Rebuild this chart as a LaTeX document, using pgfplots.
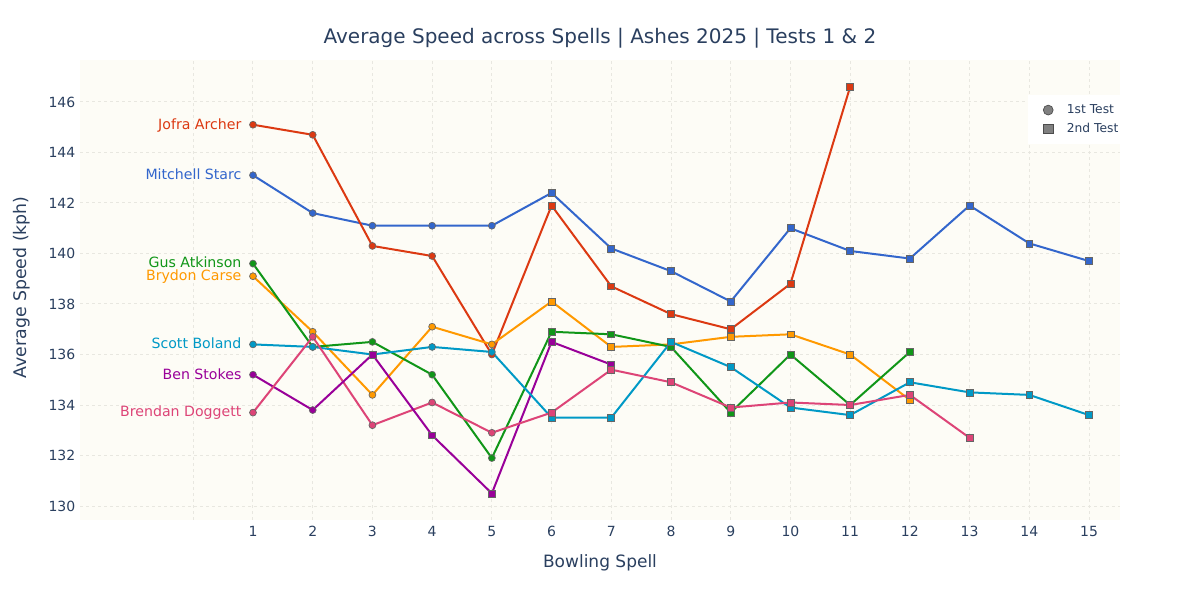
\documentclass[border=0pt]{standalone}
\usepackage{fontspec}
\setmainfont{DejaVu Sans}
\usepackage{pgfplots}
\pgfplotsset{compat=1.18}
\definecolor{cstarc}{HTML}{3366CC}
\definecolor{carcher}{HTML}{DC3912}
\definecolor{ccarse}{HTML}{FF9900}
\definecolor{catk}{HTML}{109618}
\definecolor{cstokes}{HTML}{990099}
\definecolor{cboland}{HTML}{0099C6}
\definecolor{cdog}{HTML}{DD4477}
\definecolor{txt}{HTML}{2A3F5F}
\definecolor{bg}{RGB}{253,252,246}
\definecolor{gridc}{RGB}{232,231,224}
\pgfplotsset{
 t1/.style={color=#1, line width=1.5pt, mark=*, mark size=2.6pt, mark options={fill=#1, draw=black!60, line width=0.5pt, solid}, forget plot},
 t2/.style={color=#1, line width=1.5pt, no marks, forget plot},
 t2m/.style={only marks, mark=square*, mark size=2.6pt, mark options={fill=#1, draw=black!60, line width=0.5pt}, forget plot},
 legimg/.style={legend image code/.code={\path[draw=none,fill=none] (-13pt,0pt) rectangle (12pt,0.1pt); \draw[##1] plot coordinates {(0pt,0pt)};}},
}
\begin{document}
\begin{tikzpicture}
\useasboundingbox (0,0) rectangle (900pt,450pt);
\node[txt, font=\fontsize{15}{18}\selectfont] at (450pt,421pt) {Average Speed across Spells | Ashes 2025 | Tests 1 \& 2};
\node[txt, font=\fontsize{12.75}{15}\selectfont] at (450pt,28pt) {Bowling Spell};
\node[txt, rotate=90, font=\fontsize{13}{15}\selectfont] at (16.5pt,234.4pt) {Average Speed (kph)};
\begin{axis}[
  at={(60pt,60pt)}, anchor=south west, scale only axis,
  width=780pt, height=345pt,
  xmin=-1.897, xmax=15.519, ymin=129.446, ymax=147.663,
  xtick={0,...,15}, xticklabels={,1,2,3,4,5,6,7,8,9,10,11,12,13,14,15},
  ytick={130,132,...,146},
  grid=major,
  major grid style={gridc, dash pattern=on 2.25pt off 2.25pt, line width=0.75pt},
  axis line style={draw=none},
  major tick length=0pt,
  axis background/.style={fill=bg},
  ticklabel style={txt, font=\fontsize{10.5}{12}\selectfont},
  xticklabel style={yshift=-1.2pt},
  /pgf/number format/assume math mode=true,
  /pgf/number format/1000 sep={},
  legend style={at={(0.9115,0.9239)}, anchor=north west, fill=white, draw=none,
    font=\fontsize{9.2}{11}\selectfont, text=txt, inner xsep=2pt, inner ysep=5pt, row sep=1.8pt},
  legend cell align=left,
]
% ---- 1st Test (circles) ----
\addplot[t1=cstarc] coordinates {(1,143.1)(2,141.6)(3,141.1)(4,141.1)(5,141.1)};
\addplot[t1=carcher] coordinates {(1,145.1)(2,144.7)(3,140.3)(4,139.9)(5,136.0)};
\addplot[t1=ccarse] coordinates {(1,139.1)(2,136.9)(3,134.4)(4,137.1)(5,136.4)};
\addplot[t1=catk] coordinates {(1,139.6)(2,136.3)(3,136.5)(4,135.2)(5,131.9)};
\addplot[t1=cstokes] coordinates {(1,135.2)(2,133.8)};
\addplot[t1=cboland] coordinates {(1,136.4)(2,136.3)(3,136.0)(4,136.3)(5,136.1)};
\addplot[t1=cdog] coordinates {(1,133.7)(2,136.7)(3,133.2)(4,134.1)(5,132.9)};
% ---- 2nd Test (squares) ----
\addplot[t2=cstarc] coordinates {(5,141.1)(6,142.4)(7,140.2)(8,139.3)(9,138.1)(10,141.0)(11,140.1)(12,139.8)(13,141.9)(14,140.4)(15,139.7)};
\addplot[t2m=cstarc] coordinates {(6,142.4)(7,140.2)(8,139.3)(9,138.1)(10,141.0)(11,140.1)(12,139.8)(13,141.9)(14,140.4)(15,139.7)};
\addplot[t2=carcher] coordinates {(5,136.0)(6,141.9)(7,138.7)(8,137.6)(9,137.0)(10,138.8)(11,146.6)};
\addplot[t2m=carcher] coordinates {(6,141.9)(7,138.7)(8,137.6)(9,137.0)(10,138.8)(11,146.6)};
\addplot[t2=ccarse] coordinates {(5,136.4)(6,138.1)(7,136.3)(8,136.4)(9,136.7)(10,136.8)(11,136.0)(12,134.2)};
\addplot[t2m=ccarse] coordinates {(6,138.1)(7,136.3)(8,136.4)(9,136.7)(10,136.8)(11,136.0)(12,134.2)};
\addplot[t2=catk] coordinates {(5,131.9)(6,136.9)(7,136.8)(8,136.3)(9,133.7)(10,136.0)(11,134.0)(12,136.1)};
\addplot[t2m=catk] coordinates {(6,136.9)(7,136.8)(8,136.3)(9,133.7)(10,136.0)(11,134.0)(12,136.1)};
\addplot[t2=cstokes] coordinates {(2,133.8)(3,136.0)(4,132.8)(5,130.5)(6,136.5)(7,135.6)};
\addplot[t2m=cstokes] coordinates {(3,136.0)(4,132.8)(5,130.5)(6,136.5)(7,135.6)};
\addplot[t2=cboland] coordinates {(5,136.1)(6,133.5)(7,133.5)(8,136.5)(9,135.5)(10,133.9)(11,133.6)(12,134.9)(13,134.5)(14,134.4)(15,133.6)};
\addplot[t2m=cboland] coordinates {(6,133.5)(7,133.5)(8,136.5)(9,135.5)(10,133.9)(11,133.6)(12,134.9)(13,134.5)(14,134.4)(15,133.6)};
\addplot[t2=cdog] coordinates {(5,132.9)(6,133.7)(7,135.4)(8,134.9)(9,133.9)(10,134.1)(11,134.0)(12,134.4)(13,132.7)};
\addplot[t2m=cdog] coordinates {(6,133.7)(7,135.4)(8,134.9)(9,133.9)(10,134.1)(11,134.0)(12,134.4)(13,132.7)};
% ---- name labels ----
\begin{scope}[every node/.style={anchor=east, inner sep=0pt, text height=1.4ex, text depth=0.2ex, xshift=-8.5pt, font=\fontsize{10.6}{12}\selectfont}]
\node[text=carcher] at (axis cs:1,145.1) {Jofra Archer};
\node[text=cstarc] at (axis cs:1,143.1) {Mitchell Starc};
\node[text=catk] at (axis cs:1,139.6) {Gus Atkinson};
\node[text=ccarse] at (axis cs:1,139.1) {Brydon Carse};
\node[text=cboland] at (axis cs:1,136.4) {Scott Boland};
\node[text=cstokes] at (axis cs:1,135.2) {Ben Stokes};
\node[text=cdog] at (axis cs:1,133.7) {Brendan Doggett};
\end{scope}
% ---- legend ----
\addlegendimage{legimg, only marks, mark=*, mark size=3.7pt, mark options={fill=gray, draw=black!70, line width=0.5pt}}
\addlegendentry{1st Test}
\addlegendimage{legimg, only marks, mark=square*, mark size=3.5pt, mark options={fill=gray, draw=black!70, line width=0.5pt}}
\addlegendentry{2nd Test}
\end{axis}
\end{tikzpicture}
\end{document}
